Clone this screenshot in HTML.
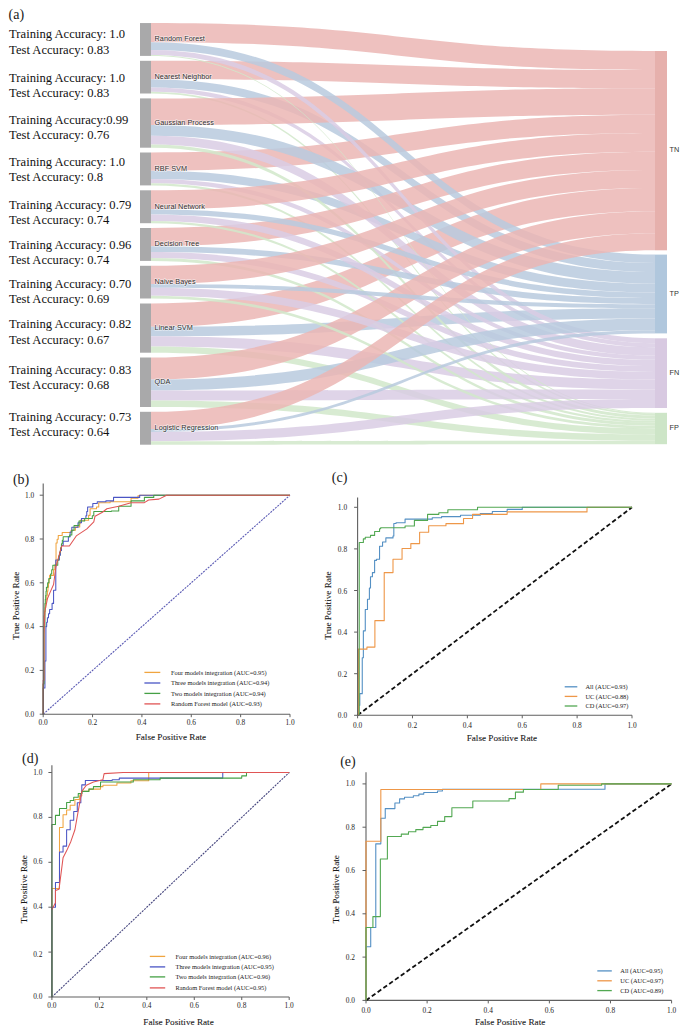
<!DOCTYPE html>
<html><head><meta charset="utf-8"><style>
html,body{margin:0;padding:0;background:#fff;width:685px;height:1032px;overflow:hidden}
svg{display:block}
.sl{font-family:"Liberation Sans",sans-serif;font-size:7.3px;fill:#333;paint-order:stroke;stroke:rgba(255,255,255,0.55);stroke-width:1.6px;stroke-linejoin:round}
.acc{font-family:"Liberation Serif",serif;font-size:12.6px;fill:#111}
.tk{font-family:"Liberation Serif",serif;font-size:7.4px;fill:#1e1e1e}
.pl{font-family:"Liberation Serif",serif;font-size:14px;fill:#1a1a1a}
.ax{font-family:"Liberation Serif",serif;font-size:9.2px;fill:#1a1a1a;stroke:#1a1a1a;stroke-width:0.1px}
.lg{font-family:"Liberation Serif",serif;font-size:6.4px;fill:#1a1a1a}
</style></head><body>
<svg width="685" height="1032" viewBox="0 0 685 1032">
<path d="M151.0,60.80C403.0,60.80 403.0,70.02 655.0,70.02L655.0,88.36C403.0,88.36 403.0,79.20 151.0,79.20Z" fill="rgba(235,182,180,0.85)"/>
<path d="M151.0,79.20C403.0,79.20 403.0,263.00 655.0,263.00L655.0,271.99C403.0,271.99 403.0,87.60 151.0,87.60Z" fill="rgba(184,202,222,0.85)"/>
<path d="M151.0,87.60C403.0,87.60 403.0,343.14 655.0,343.14L655.0,347.21C403.0,347.21 403.0,91.80 151.0,91.80Z" fill="rgba(217,204,228,0.85)"/>
<path d="M151.0,91.80C403.0,91.80 403.0,413.68 655.0,413.68L655.0,415.34C403.0,415.34 403.0,93.50 151.0,93.50Z" fill="rgba(209,231,202,0.85)"/>
<path d="M151.0,303.50C403.0,303.50 403.0,188.02 655.0,188.02L655.0,211.24C403.0,211.24 403.0,326.80 151.0,326.80Z" fill="rgba(235,182,180,0.85)"/>
<path d="M151.0,326.80C403.0,326.80 403.0,308.26 655.0,308.26L655.0,318.42C403.0,318.42 403.0,336.30 151.0,336.30Z" fill="rgba(184,202,222,0.85)"/>
<path d="M151.0,336.30C403.0,336.30 403.0,379.54 655.0,379.54L655.0,389.41C403.0,389.41 403.0,346.50 151.0,346.50Z" fill="rgba(217,204,228,0.85)"/>
<path d="M151.0,346.50C403.0,346.50 403.0,428.40 655.0,428.40L655.0,434.45C403.0,434.45 403.0,352.70 151.0,352.70Z" fill="rgba(209,231,202,0.85)"/>
<path d="M151.0,152.50C403.0,152.50 403.0,114.77 655.0,114.77L655.0,132.91C403.0,132.91 403.0,170.70 151.0,170.70Z" fill="rgba(235,182,180,0.85)"/>
<path d="M151.0,170.70C403.0,170.70 403.0,283.65 655.0,283.65L655.0,292.42C403.0,292.42 403.0,178.90 151.0,178.90Z" fill="rgba(184,202,222,0.85)"/>
<path d="M151.0,178.90C403.0,178.90 403.0,355.63 655.0,355.63L655.0,359.79C403.0,359.79 403.0,183.20 151.0,183.20Z" fill="rgba(217,204,228,0.85)"/>
<path d="M151.0,183.20C403.0,183.20 403.0,418.46 655.0,418.46L655.0,420.60C403.0,420.60 403.0,185.40 151.0,185.40Z" fill="rgba(209,231,202,0.85)"/>
<path d="M151.0,98.40C403.0,98.40 403.0,88.36 655.0,88.36L655.0,114.77C403.0,114.77 403.0,124.90 151.0,124.90Z" fill="rgba(235,182,180,0.85)"/>
<path d="M151.0,124.90C403.0,124.90 403.0,271.99 655.0,271.99L655.0,283.65C403.0,283.65 403.0,135.80 151.0,135.80Z" fill="rgba(184,202,222,0.85)"/>
<path d="M151.0,135.80C403.0,135.80 403.0,347.21 655.0,347.21L655.0,355.63C403.0,355.63 403.0,144.50 151.0,144.50Z" fill="rgba(217,204,228,0.85)"/>
<path d="M151.0,144.50C403.0,144.50 403.0,415.34 655.0,415.34L655.0,418.46C403.0,418.46 403.0,147.70 151.0,147.70Z" fill="rgba(209,231,202,0.85)"/>
<path d="M151.0,228.00C403.0,228.00 403.0,151.74 655.0,151.74L655.0,169.88C403.0,169.88 403.0,246.20 151.0,246.20Z" fill="rgba(235,182,180,0.85)"/>
<path d="M151.0,246.20C403.0,246.20 403.0,297.99 655.0,297.99L655.0,304.19C403.0,304.19 403.0,252.00 151.0,252.00Z" fill="rgba(184,202,222,0.85)"/>
<path d="M151.0,252.00C403.0,252.00 403.0,366.08 655.0,366.08L655.0,371.89C403.0,371.89 403.0,258.00 151.0,258.00Z" fill="rgba(217,204,228,0.85)"/>
<path d="M151.0,258.00C403.0,258.00 403.0,422.84 655.0,422.84L655.0,425.67C403.0,425.67 403.0,260.90 151.0,260.90Z" fill="rgba(209,231,202,0.85)"/>
<path d="M151.0,23.06C403.0,23.06 403.0,51.00 655.0,51.00L655.0,70.02C403.0,70.02 403.0,42.15 151.0,42.15Z" fill="rgba(235,182,180,0.85)"/>
<path d="M151.0,42.15C403.0,42.15 403.0,254.60 655.0,254.60L655.0,263.00C403.0,263.00 403.0,50.00 151.0,50.00Z" fill="rgba(184,202,222,0.85)"/>
<path d="M151.0,50.00C403.0,50.00 403.0,338.30 655.0,338.30L655.0,343.14C403.0,343.14 403.0,55.00 151.0,55.00Z" fill="rgba(217,204,228,0.85)"/>
<path d="M151.0,55.00C403.0,55.00 403.0,412.80 655.0,412.80L655.0,413.68C403.0,413.68 403.0,55.90 151.0,55.90Z" fill="rgba(209,231,202,0.85)"/>
<path d="M151.0,190.30C403.0,190.30 403.0,132.91 655.0,132.91L655.0,151.74C403.0,151.74 403.0,209.20 151.0,209.20Z" fill="rgba(235,182,180,0.85)"/>
<path d="M151.0,209.20C403.0,209.20 403.0,292.42 655.0,292.42L655.0,297.99C403.0,297.99 403.0,214.40 151.0,214.40Z" fill="rgba(184,202,222,0.85)"/>
<path d="M151.0,214.40C403.0,214.40 403.0,359.79 655.0,359.79L655.0,366.08C403.0,366.08 403.0,220.90 151.0,220.90Z" fill="rgba(217,204,228,0.85)"/>
<path d="M151.0,220.90C403.0,220.90 403.0,420.60 655.0,420.60L655.0,422.84C403.0,422.84 403.0,223.20 151.0,223.20Z" fill="rgba(209,231,202,0.85)"/>
<path d="M151.0,357.50C403.0,357.50 403.0,211.24 655.0,211.24L655.0,233.16C403.0,233.16 403.0,379.50 151.0,379.50Z" fill="rgba(235,182,180,0.85)"/>
<path d="M151.0,379.50C403.0,379.50 403.0,318.42 655.0,318.42L655.0,330.30C403.0,330.30 403.0,390.60 151.0,390.60Z" fill="rgba(184,202,222,0.85)"/>
<path d="M151.0,390.60C403.0,390.60 403.0,389.41 655.0,389.41L655.0,399.00C403.0,399.00 403.0,400.50 151.0,400.50Z" fill="rgba(217,204,228,0.85)"/>
<path d="M151.0,400.50C403.0,400.50 403.0,434.45 655.0,434.45L655.0,440.79C403.0,440.79 403.0,407.00 151.0,407.00Z" fill="rgba(209,231,202,0.85)"/>
<path d="M151.0,265.80C403.0,265.80 403.0,169.88 655.0,169.88L655.0,188.02C403.0,188.02 403.0,284.00 151.0,284.00Z" fill="rgba(235,182,180,0.85)"/>
<path d="M151.0,284.00C403.0,284.00 403.0,304.19 655.0,304.19L655.0,308.26C403.0,308.26 403.0,287.80 151.0,287.80Z" fill="rgba(184,202,222,0.85)"/>
<path d="M151.0,287.80C403.0,287.80 403.0,371.89 655.0,371.89L655.0,379.54C403.0,379.54 403.0,295.70 151.0,295.70Z" fill="rgba(217,204,228,0.85)"/>
<path d="M151.0,295.70C403.0,295.70 403.0,425.67 655.0,425.67L655.0,428.40C403.0,428.40 403.0,298.50 151.0,298.50Z" fill="rgba(209,231,202,0.85)"/>
<path d="M151.0,411.80C403.0,411.80 403.0,233.16 655.0,233.16L655.0,250.30C403.0,250.30 403.0,429.00 151.0,429.00Z" fill="rgba(235,182,180,0.85)"/>
<path d="M151.0,429.00C403.0,429.00 403.0,330.30 655.0,330.30L655.0,333.40C403.0,333.40 403.0,431.90 151.0,431.90Z" fill="rgba(184,202,222,0.85)"/>
<path d="M151.0,431.90C403.0,431.90 403.0,399.00 655.0,399.00L655.0,408.00C403.0,408.00 403.0,441.20 151.0,441.20Z" fill="rgba(217,204,228,0.85)"/>
<path d="M151.0,441.20C403.0,441.20 403.0,440.79 655.0,440.79L655.0,444.20C403.0,444.20 403.0,444.70 151.0,444.70Z" fill="rgba(209,231,202,0.85)"/>
<rect x="140" y="23.06" width="11" height="32.84" fill="#a9a9aa"/>
<rect x="140" y="60.80" width="11" height="32.70" fill="#a9a9aa"/>
<rect x="140" y="98.40" width="11" height="49.30" fill="#a9a9aa"/>
<rect x="140" y="152.50" width="11" height="32.90" fill="#a9a9aa"/>
<rect x="140" y="190.30" width="11" height="32.90" fill="#a9a9aa"/>
<rect x="140" y="228.00" width="11" height="32.90" fill="#a9a9aa"/>
<rect x="140" y="265.80" width="11" height="32.70" fill="#a9a9aa"/>
<rect x="140" y="303.50" width="11" height="49.20" fill="#a9a9aa"/>
<rect x="140" y="357.50" width="11" height="49.50" fill="#a9a9aa"/>
<rect x="140" y="411.80" width="11" height="32.90" fill="#a9a9aa"/>
<rect x="655" y="51.0" width="12" height="199.30" fill="#e6b0ac"/>
<rect x="655" y="254.6" width="12" height="78.80" fill="#b0c7dd"/>
<rect x="655" y="338.3" width="12" height="69.70" fill="#d8c9e1"/>
<rect x="655" y="412.8" width="12" height="31.40" fill="#cde5c7"/>
<text x="154.6" y="41.28" class="sl">Random Forest</text>
<text x="154.6" y="78.95" class="sl">Nearest Neighbor</text>
<text x="154.6" y="124.85" class="sl">Gaussian Process</text>
<text x="154.6" y="170.75" class="sl">RBF SVM</text>
<text x="154.6" y="208.55" class="sl">Neural Network</text>
<text x="154.6" y="246.25" class="sl">Decision Tree</text>
<text x="154.6" y="283.95" class="sl">Naive Bayes</text>
<text x="154.6" y="329.90" class="sl">Linear SVM</text>
<text x="154.6" y="384.05" class="sl">QDA</text>
<text x="154.6" y="430.05" class="sl">Logistic Regression</text>
<text x="669.6" y="152.25" class="sl">TN</text>
<text x="669.6" y="295.60" class="sl">TP</text>
<text x="669.6" y="374.75" class="sl">FN</text>
<text x="669.6" y="430.10" class="sl">FP</text>
<text x="9.1" y="38.40" class="acc">Training Accuracy: 1.0</text>
<text x="9.1" y="53.50" class="acc">Test Accuracy: 0.83</text>
<text x="9.1" y="81.70" class="acc">Training Accuracy: 1.0</text>
<text x="9.1" y="96.80" class="acc">Test Accuracy: 0.83</text>
<text x="9.1" y="123.70" class="acc">Training Accuracy:0.99</text>
<text x="9.1" y="138.80" class="acc">Test Accuracy: 0.76</text>
<text x="9.1" y="166.00" class="acc">Training Accuracy: 1.0</text>
<text x="9.1" y="181.10" class="acc">Test Accuracy: 0.8</text>
<text x="9.1" y="209.10" class="acc">Training Accuracy: 0.79</text>
<text x="9.1" y="224.20" class="acc">Test Accuracy: 0.74</text>
<text x="9.1" y="248.70" class="acc">Training Accuracy: 0.96</text>
<text x="9.1" y="263.80" class="acc">Test Accuracy: 0.74</text>
<text x="9.1" y="287.60" class="acc">Training Accuracy: 0.70</text>
<text x="9.1" y="302.70" class="acc">Test Accuracy: 0.69</text>
<text x="9.1" y="328.40" class="acc">Training Accuracy: 0.82</text>
<text x="9.1" y="343.50" class="acc">Test Accuracy: 0.67</text>
<text x="9.1" y="373.50" class="acc">Training Accuracy: 0.83</text>
<text x="9.1" y="388.60" class="acc">Test Accuracy: 0.68</text>
<text x="9.1" y="420.90" class="acc">Training Accuracy: 0.73</text>
<text x="9.1" y="436.00" class="acc">Test Accuracy: 0.64</text>
<text x="8.6" y="19" class="pl">(a)</text>
<path d="M43.2,714.2 L290,495.2" stroke="#5a5ab4" stroke-width="1.1" stroke-dasharray="2,1.1"/>
<polyline points="43.20,714.20 43.20,714.20 43.20,683.54 43.94,683.54 43.94,683.54 43.94,683.54 43.94,615.65 44.52,615.65 44.52,611.56 45.09,611.56 45.09,607.47 45.67,607.47 45.67,603.39 46.24,603.39 46.24,599.30 46.82,599.30 46.82,595.21 47.40,595.21 47.40,591.12 47.95,591.12 47.95,587.18 48.51,587.18 48.51,583.24 49.06,583.24 49.06,579.30 49.62,579.30 49.62,575.35 53.57,575.35 53.57,569.66 54.80,569.66 54.80,564.84 56.03,564.84 56.03,560.02 56.03,560.02 56.03,542.94 57.14,542.94 57.14,539.22 58.25,539.22 58.25,535.50 62.20,535.50 62.20,532.43 71.09,532.43 71.09,530.24 75.41,530.24 75.41,526.96 79.73,526.96 79.73,523.67 80.22,523.67 80.22,520.17 88.61,520.17 88.61,515.35 90.09,515.35 90.09,508.78 96.51,508.78 96.51,507.03 98.73,507.03 98.73,502.65 110.08,502.65 110.08,501.77 131.06,501.77 131.06,498.27 137.97,498.27 137.97,495.86 139.45,495.86 139.45,495.20 290.00,495.20 290.00,495.20" fill="none" stroke="#f0a540" stroke-width="1.05" stroke-linejoin="round"/>
<polyline points="43.20,714.20 43.20,714.20 43.20,687.92 43.94,687.92 43.94,687.92 44.93,687.92 44.93,676.31 44.93,676.31 44.93,660.98 45.91,660.98 45.91,626.60 46.66,626.60 46.66,622.22 47.40,622.22 47.40,617.84 48.51,617.84 48.51,613.68 49.62,613.68 49.62,609.52 52.08,609.52 52.08,603.39 53.57,603.39 53.57,598.79 53.57,598.79 53.57,590.25 55.79,590.25 55.79,587.84 55.79,587.84 55.79,560.02 58.25,560.02 58.25,560.02 59.32,560.02 59.32,555.21 60.39,555.21 60.39,550.39 61.46,550.39 61.46,545.57 63.19,545.57 63.19,541.19 68.37,541.19 68.37,536.81 70.10,536.81 70.10,531.99 71.83,531.99 71.83,527.17 78.00,527.17 78.00,522.79 81.45,522.79 81.45,518.41 85.90,518.41 85.90,515.79 86.76,515.79 86.76,511.41 87.62,511.41 87.62,507.03 92.81,507.03 92.81,503.52 97.25,503.52 97.25,501.77 105.89,501.77 105.89,500.89 113.54,500.89 113.54,497.39 139.70,497.39 139.70,495.20 290.00,495.20 290.00,495.20" fill="none" stroke="#4a55c4" stroke-width="1.05" stroke-linejoin="round"/>
<polyline points="43.20,714.20 43.20,714.20 43.20,683.98 43.94,683.98 43.94,683.98 43.94,683.98 43.94,626.60 44.93,626.60 44.93,603.39 45.30,603.39 45.30,599.33 45.67,599.33 45.67,595.28 46.04,595.28 46.04,591.23 46.41,591.23 46.41,587.18 47.64,587.18 47.64,582.80 48.88,582.80 48.88,578.42 50.60,578.42 50.60,574.04 51.71,574.04 51.71,569.66 52.83,569.66 52.83,565.28 57.76,565.28 57.76,560.02 58.69,560.02 58.69,555.97 59.61,555.97 59.61,551.92 60.54,551.92 60.54,547.87 61.46,547.87 61.46,543.82 62.33,543.82 62.33,540.31 63.19,540.31 63.19,536.81 69.61,536.81 69.61,535.06 71.83,535.06 71.83,530.24 74.05,530.24 74.05,525.42 78.99,525.42 78.99,521.04 84.66,521.04 84.66,518.41 92.31,518.41 92.31,515.79 93.79,515.79 93.79,511.41 111.32,511.41 111.32,510.97 118.72,510.97 118.72,506.15 131.06,506.15 131.06,500.89 144.39,500.89 144.39,497.39 153.77,497.39 153.77,495.20 290.00,495.20 290.00,495.20" fill="none" stroke="#45a045" stroke-width="1.05" stroke-linejoin="round"/>
<polyline points="43.20,714.20 43.20,680.25 43.94,680.25 43.94,634.48 44.93,611.27 47.40,598.79 50.60,591.12 53.57,584.55 55.79,567.47 57.76,560.02 61.71,546.01 69.36,546.01 76.27,535.93 86.88,528.93 93.79,521.92 95.03,516.22 102.43,512.28 106.87,508.78 118.72,506.15 131.06,502.65 144.39,502.65 148.58,500.02 158.95,499.14 166.60,495.20 290.00,495.20" fill="none" stroke="#e05555" stroke-width="1.05" stroke-linejoin="round"/>
<path d="M43.2,483.6 L43.2,714.2 L290.00,714.2" fill="none" stroke="#606060" stroke-width="1.1"/>
<path d="M43.20,714.2 L43.20,717.2" stroke="#606060" stroke-width="1"/>
<path d="M43.2,714.20 L39.7,714.20" stroke="#606060" stroke-width="1"/>
<text x="43.20" y="724.80" class="tk" text-anchor="middle">0.0</text>
<text x="34.20" y="717.00" class="tk" text-anchor="end">0.0</text>
<path d="M92.56,714.2 L92.56,717.2" stroke="#606060" stroke-width="1"/>
<path d="M43.2,670.40 L39.7,670.40" stroke="#606060" stroke-width="1"/>
<text x="92.56" y="724.80" class="tk" text-anchor="middle">0.2</text>
<text x="34.20" y="673.20" class="tk" text-anchor="end">0.2</text>
<path d="M141.92,714.2 L141.92,717.2" stroke="#606060" stroke-width="1"/>
<path d="M43.2,626.60 L39.7,626.60" stroke="#606060" stroke-width="1"/>
<text x="141.92" y="724.80" class="tk" text-anchor="middle">0.4</text>
<text x="34.20" y="629.40" class="tk" text-anchor="end">0.4</text>
<path d="M191.28,714.2 L191.28,717.2" stroke="#606060" stroke-width="1"/>
<path d="M43.2,582.80 L39.7,582.80" stroke="#606060" stroke-width="1"/>
<text x="191.28" y="724.80" class="tk" text-anchor="middle">0.6</text>
<text x="34.20" y="585.60" class="tk" text-anchor="end">0.6</text>
<path d="M240.64,714.2 L240.64,717.2" stroke="#606060" stroke-width="1"/>
<path d="M43.2,539.00 L39.7,539.00" stroke="#606060" stroke-width="1"/>
<text x="240.64" y="724.80" class="tk" text-anchor="middle">0.8</text>
<text x="34.20" y="541.80" class="tk" text-anchor="end">0.8</text>
<path d="M290.00,714.2 L290.00,717.2" stroke="#606060" stroke-width="1"/>
<path d="M43.2,495.20 L39.7,495.20" stroke="#606060" stroke-width="1"/>
<text x="290.00" y="724.80" class="tk" text-anchor="middle">1.0</text>
<text x="34.20" y="498.00" class="tk" text-anchor="end">1.0</text>
<text x="12.9" y="484.4" class="pl">(b)</text>
<text x="170.9" y="740.3" class="ax" text-anchor="middle">False Positive Rate</text>
<text x="0" y="0" class="ax" text-anchor="middle" transform="translate(18.9,605.6) rotate(-90)">True Positive Rate</text>
<path d="M144.4,672.4 L160.3,672.4" stroke="#f0a540" stroke-width="1.3"/>
<text x="171" y="674.6999999999999" class="lg">Four models integration (AUC=0.95)</text>
<path d="M144.4,683.0 L160.3,683.0" stroke="#4a55c4" stroke-width="1.3"/>
<text x="171" y="685.3" class="lg">Three models integration (AUC=0.94)</text>
<path d="M144.4,693.4 L160.3,693.4" stroke="#45a045" stroke-width="1.3"/>
<text x="171" y="695.6999999999999" class="lg">Two models integration (AUC=0.94)</text>
<path d="M144.4,703.9 L160.3,703.9" stroke="#e05555" stroke-width="1.3"/>
<text x="171" y="706.1999999999999" class="lg">Random Forest model (AUC=0.93)</text>
<path d="M357.6,715.3 L632,507.3" stroke="#111" stroke-width="1.8" stroke-dasharray="4.5,2.6"/>
<polyline points="358.70,715.30 358.70,715.30 358.70,705.32 359.80,705.32 359.80,693.67 362.26,693.67 362.26,690.34 362.26,690.34 362.26,657.68 363.36,657.68 363.36,654.98 363.36,654.98 363.36,630.85 365.28,630.85 365.28,609.43 367.48,609.43 367.48,599.24 369.40,599.24 369.40,588.00 370.50,588.00 370.50,576.77 372.42,576.77 372.42,572.61 374.61,572.61 374.61,560.34 376.53,560.34 376.53,559.30 379.55,559.30 379.55,546.20 382.57,546.20 382.57,542.04 385.86,542.04 385.86,537.88 393.00,537.88 393.00,536.00 393.82,536.00 393.82,523.52 396.02,523.52 396.02,522.69 405.07,522.69 405.07,519.16 425.10,519.16 425.10,519.16 432.24,519.16 432.24,517.70 441.57,517.70 441.57,516.66 460.50,516.66 460.50,515.20 480.26,515.20 480.26,513.54 492.33,513.54 492.33,511.46 507.15,511.46 507.15,509.38 522.24,509.38 522.24,507.30 632.00,507.30 632.00,507.30" fill="none" stroke="#5490c4" stroke-width="1.1" stroke-linejoin="round"/>
<polyline points="358.42,715.30 358.42,715.30 358.42,649.16 366.93,649.16 366.93,647.08 374.89,647.08 374.89,620.66 384.22,620.66 384.22,572.61 393.00,572.61 393.00,559.30 402.05,559.30 402.05,548.48 410.83,548.48 410.83,543.60 419.61,543.60 419.61,532.26 428.67,532.26 428.67,525.71 445.96,525.71 445.96,523.63 463.52,523.63 463.52,518.53 472.57,518.53 472.57,514.37 507.15,514.37 507.15,511.88 587.00,511.88 587.00,507.30 632.00,507.30 632.00,507.30" fill="none" stroke="#ee9748" stroke-width="1.1" stroke-linejoin="round"/>
<polyline points="359.25,715.30 359.25,715.30 359.25,542.45 363.36,542.45 363.36,538.92 365.28,538.92 365.28,537.25 370.50,537.25 370.50,535.38 374.61,535.38 374.61,531.43 379.55,531.43 379.55,528.72 380.65,528.72 380.65,527.68 405.07,527.68 405.07,526.02 414.40,526.02 414.40,520.40 427.57,520.40 427.57,514.37 438.82,514.37 438.82,512.81 447.88,512.81 447.88,509.69 477.51,509.69 477.51,507.72 477.51,507.72 477.51,507.30 632.00,507.30 632.00,507.30" fill="none" stroke="#52a852" stroke-width="1.1" stroke-linejoin="round"/>
<path d="M357.6,497.4 L357.6,715.3 L632.00,715.3" fill="none" stroke="#606060" stroke-width="1.1"/>
<path d="M357.60,715.3 L357.60,718.3" stroke="#606060" stroke-width="1"/>
<path d="M357.6,715.30 L354.1,715.30" stroke="#606060" stroke-width="1"/>
<text x="357.60" y="727.90" class="tk" text-anchor="middle">0.0</text>
<text x="347.10" y="718.30" class="tk" text-anchor="end">0.0</text>
<path d="M412.48,715.3 L412.48,718.3" stroke="#606060" stroke-width="1"/>
<path d="M357.6,673.70 L354.1,673.70" stroke="#606060" stroke-width="1"/>
<text x="412.48" y="727.90" class="tk" text-anchor="middle">0.2</text>
<text x="347.10" y="676.70" class="tk" text-anchor="end">0.2</text>
<path d="M467.36,715.3 L467.36,718.3" stroke="#606060" stroke-width="1"/>
<path d="M357.6,632.10 L354.1,632.10" stroke="#606060" stroke-width="1"/>
<text x="467.36" y="727.90" class="tk" text-anchor="middle">0.4</text>
<text x="347.10" y="635.10" class="tk" text-anchor="end">0.4</text>
<path d="M522.24,715.3 L522.24,718.3" stroke="#606060" stroke-width="1"/>
<path d="M357.6,590.50 L354.1,590.50" stroke="#606060" stroke-width="1"/>
<text x="522.24" y="727.90" class="tk" text-anchor="middle">0.6</text>
<text x="347.10" y="593.50" class="tk" text-anchor="end">0.6</text>
<path d="M577.12,715.3 L577.12,718.3" stroke="#606060" stroke-width="1"/>
<path d="M357.6,548.90 L354.1,548.90" stroke="#606060" stroke-width="1"/>
<text x="577.12" y="727.90" class="tk" text-anchor="middle">0.8</text>
<text x="347.10" y="551.90" class="tk" text-anchor="end">0.8</text>
<path d="M632.00,715.3 L632.00,718.3" stroke="#606060" stroke-width="1"/>
<path d="M357.6,507.30 L354.1,507.30" stroke="#606060" stroke-width="1"/>
<text x="632.00" y="727.90" class="tk" text-anchor="middle">1.0</text>
<text x="347.10" y="510.30" class="tk" text-anchor="end">1.0</text>
<text x="331.8" y="482.0" class="pl">(c)</text>
<text x="501.9" y="740.6" class="ax" text-anchor="middle">False Positive Rate</text>
<text x="0" y="0" class="ax" text-anchor="middle" transform="translate(331.1,605.5) rotate(-90)">True Positive Rate</text>
<path d="M564.7,686.8 L577.3,686.8" stroke="#5490c4" stroke-width="1.3"/>
<text x="585.4" y="689.0999999999999" class="lg">All (AUC=0.93)</text>
<path d="M564.7,696.4 L577.3,696.4" stroke="#ee9748" stroke-width="1.3"/>
<text x="585.4" y="698.6999999999999" class="lg">UC (AUC=0.88)</text>
<path d="M564.7,706.0 L577.3,706.0" stroke="#52a852" stroke-width="1.3"/>
<text x="585.4" y="708.3" class="lg">CD (AUC=0.97)</text>
<path d="M51.9,997 L289.2,772.5" stroke="#45457e" stroke-width="1.1" stroke-dasharray="2,1.1"/>
<polyline points="51.90,997.00 51.90,997.00 51.90,888.57 59.49,888.57 59.49,887.89 59.49,887.89 59.49,827.50 63.05,827.50 63.05,814.71 66.61,814.71 66.61,809.99 70.17,809.99 70.17,805.28 74.92,805.28 74.92,799.44 79.43,799.44 79.43,795.85 81.80,795.85 81.80,791.36 88.92,791.36 88.92,789.11 100.55,789.11 100.55,786.64 102.92,786.64 102.92,785.30 116.92,785.30 116.92,783.05 130.92,783.05 130.92,780.81 148.72,780.81 148.72,778.11 148.72,778.11 148.72,772.50 289.20,772.50 289.20,772.50" fill="none" stroke="#f0a540" stroke-width="1.05" stroke-linejoin="round"/>
<polyline points="51.90,997.00 51.90,997.00 51.90,907.20 55.46,907.20 55.46,882.50 59.49,882.50 59.49,851.97 63.05,851.97 63.05,846.14 66.61,846.14 66.61,829.75 70.17,829.75 70.17,820.32 73.73,820.32 73.73,811.56 77.29,811.56 77.29,802.81 80.85,802.81 80.85,793.60 81.80,793.60 81.80,784.85 85.36,784.85 85.36,780.58 100.55,780.58 100.55,780.58 112.17,780.58 112.17,779.68 119.29,779.68 119.29,778.11 222.76,778.11 222.76,776.99 222.76,776.99 222.76,772.50 289.20,772.50 289.20,772.50" fill="none" stroke="#4a55c4" stroke-width="1.05" stroke-linejoin="round"/>
<polyline points="51.90,997.00 51.90,997.00 51.90,824.58 55.46,824.58 55.46,815.38 59.49,815.38 59.49,808.42 66.61,808.42 66.61,802.58 70.17,802.58 70.17,800.56 73.73,800.56 73.73,797.19 78.24,797.19 78.24,793.60 81.80,793.60 81.80,791.36 88.92,791.36 88.92,789.11 93.43,789.11 93.43,786.64 100.55,786.64 100.55,781.93 133.29,781.93 133.29,779.68 160.11,779.68 160.11,778.11 241.74,778.11 241.74,775.87 246.49,775.87 246.49,772.50 289.20,772.50 289.20,772.50" fill="none" stroke="#45a045" stroke-width="1.05" stroke-linejoin="round"/>
<polyline points="51.90,909.44 55.46,902.71 55.46,890.59 59.02,889.24 63.05,857.81 66.61,850.85 70.88,841.42 74.92,829.75 78.24,810.89 81.80,791.36 86.31,785.30 93.43,781.93 102.92,779.68 104.11,773.62 123.09,772.50 289.20,772.50" fill="none" stroke="#e05555" stroke-width="1.05" stroke-linejoin="round"/>
<path d="M51.9,765.2 L51.9,997.0 L289.20,997.0" fill="none" stroke="#606060" stroke-width="1.1"/>
<path d="M51.90,997.0 L51.90,1000.0" stroke="#606060" stroke-width="1"/>
<path d="M51.9,997.00 L48.4,997.00" stroke="#606060" stroke-width="1"/>
<text x="51.90" y="1008.00" class="tk" text-anchor="middle">0.0</text>
<text x="42.40" y="999.00" class="tk" text-anchor="end">0.0</text>
<path d="M99.36,997.0 L99.36,1000.0" stroke="#606060" stroke-width="1"/>
<path d="M51.9,952.10 L48.4,952.10" stroke="#606060" stroke-width="1"/>
<text x="99.36" y="1008.00" class="tk" text-anchor="middle">0.2</text>
<text x="42.40" y="957.30" class="tk" text-anchor="end">0.2</text>
<path d="M146.82,997.0 L146.82,1000.0" stroke="#606060" stroke-width="1"/>
<path d="M51.9,907.20 L48.4,907.20" stroke="#606060" stroke-width="1"/>
<text x="146.82" y="1008.00" class="tk" text-anchor="middle">0.4</text>
<text x="42.40" y="909.20" class="tk" text-anchor="end">0.4</text>
<path d="M194.28,997.0 L194.28,1000.0" stroke="#606060" stroke-width="1"/>
<path d="M51.9,862.30 L48.4,862.30" stroke="#606060" stroke-width="1"/>
<text x="194.28" y="1008.00" class="tk" text-anchor="middle">0.6</text>
<text x="42.40" y="864.30" class="tk" text-anchor="end">0.6</text>
<path d="M241.74,997.0 L241.74,1000.0" stroke="#606060" stroke-width="1"/>
<path d="M51.9,817.40 L48.4,817.40" stroke="#606060" stroke-width="1"/>
<text x="241.74" y="1008.00" class="tk" text-anchor="middle">0.8</text>
<text x="42.40" y="819.40" class="tk" text-anchor="end">0.8</text>
<path d="M289.20,997.0 L289.20,1000.0" stroke="#606060" stroke-width="1"/>
<path d="M51.9,772.50 L48.4,772.50" stroke="#606060" stroke-width="1"/>
<text x="289.20" y="1008.00" class="tk" text-anchor="middle">1.0</text>
<text x="42.40" y="774.50" class="tk" text-anchor="end">1.0</text>
<text x="22.0" y="762.8" class="pl">(d)</text>
<text x="178.5" y="1024.8" class="ax" text-anchor="middle">False Positive Rate</text>
<text x="0" y="0" class="ax" text-anchor="middle" transform="translate(26.5,889.3) rotate(-90)">True Positive Rate</text>
<path d="M149.8,956.4 L165.2,956.4" stroke="#f0a540" stroke-width="1.3"/>
<text x="175.5" y="958.6999999999999" class="lg">Four models integration (AUC=0.96)</text>
<path d="M149.8,966.9 L165.2,966.9" stroke="#4a55c4" stroke-width="1.3"/>
<text x="175.5" y="969.1999999999999" class="lg">Three models integration (AUC=0.95)</text>
<path d="M149.8,976.9 L165.2,976.9" stroke="#45a045" stroke-width="1.3"/>
<text x="175.5" y="979.1999999999999" class="lg">Two models integration (AUC=0.96)</text>
<path d="M149.8,987.9 L165.2,987.9" stroke="#e05555" stroke-width="1.3"/>
<text x="175.5" y="990.1999999999999" class="lg">Random Forest model (AUC=0.95)</text>
<path d="M366.0,772.2 L366.0,1000.4 L671.60,1000.4" fill="none" stroke="#606060" stroke-width="1.1"/>
<path d="M366,1000.4 L671.6,783.9" stroke="#111" stroke-width="1.8" stroke-dasharray="4.5,2.6"/>
<polyline points="366.00,1000.40 366.00,1000.40 366.00,946.82 370.71,946.82 370.71,927.44 375.78,927.44 375.78,843.87 380.82,843.87 380.82,818.32 385.25,818.32 385.25,808.58 394.91,808.58 394.91,802.95 399.62,802.95 399.62,798.84 404.51,798.84 404.51,797.32 413.37,797.32 413.37,795.70 418.87,795.70 418.87,794.08 423.76,794.08 423.76,792.56 437.51,792.56 437.51,790.94 442.40,790.94 442.40,789.31 604.98,789.31 604.98,783.90 671.60,783.90 671.60,783.90" fill="none" stroke="#5490c4" stroke-width="1.1" stroke-linejoin="round"/>
<polyline points="366.00,1000.40 366.00,1000.40 366.00,841.27 380.82,841.27 380.82,789.53 540.80,789.53 540.80,783.90 671.60,783.90 671.60,783.90" fill="none" stroke="#ee9748" stroke-width="1.1" stroke-linejoin="round"/>
<polyline points="366.00,1000.40 366.00,1000.40 366.00,927.44 372.91,927.44 372.91,916.61 380.36,916.61 380.36,859.03 387.39,859.03 387.39,836.51 401.30,836.51 401.30,834.13 408.48,834.13 408.48,831.75 415.81,831.75 415.81,829.58 423.02,829.58 423.02,827.42 430.79,827.42 430.79,825.47 437.51,825.47 437.51,821.35 444.69,821.35 444.69,816.59 451.87,816.59 451.87,807.71 472.81,807.71 472.81,801.00 509.02,801.00 509.02,798.62 515.44,798.62 515.44,792.13 523.38,792.13 523.38,789.53 558.22,789.53 558.22,785.20 601.62,785.20 601.62,783.90 671.60,783.90 671.60,783.90" fill="none" stroke="#52a852" stroke-width="1.1" stroke-linejoin="round"/>
<path d="M366.00,1000.4 L366.00,1003.4" stroke="#606060" stroke-width="1"/>
<path d="M366.0,1000.40 L362.5,1000.40" stroke="#606060" stroke-width="1"/>
<text x="366.00" y="1013.30" class="tk" text-anchor="middle">0.0</text>
<text x="355.00" y="1002.80" class="tk" text-anchor="end">0.0</text>
<path d="M427.12,1000.4 L427.12,1003.4" stroke="#606060" stroke-width="1"/>
<path d="M366.0,957.10 L362.5,957.10" stroke="#606060" stroke-width="1"/>
<text x="427.12" y="1013.30" class="tk" text-anchor="middle">0.2</text>
<text x="355.00" y="959.50" class="tk" text-anchor="end">0.2</text>
<path d="M488.24,1000.4 L488.24,1003.4" stroke="#606060" stroke-width="1"/>
<path d="M366.0,913.80 L362.5,913.80" stroke="#606060" stroke-width="1"/>
<text x="488.24" y="1013.30" class="tk" text-anchor="middle">0.4</text>
<text x="355.00" y="916.20" class="tk" text-anchor="end">0.4</text>
<path d="M549.36,1000.4 L549.36,1003.4" stroke="#606060" stroke-width="1"/>
<path d="M366.0,870.50 L362.5,870.50" stroke="#606060" stroke-width="1"/>
<text x="549.36" y="1013.30" class="tk" text-anchor="middle">0.6</text>
<text x="355.00" y="872.90" class="tk" text-anchor="end">0.6</text>
<path d="M610.48,1000.4 L610.48,1003.4" stroke="#606060" stroke-width="1"/>
<path d="M366.0,827.20 L362.5,827.20" stroke="#606060" stroke-width="1"/>
<text x="610.48" y="1013.30" class="tk" text-anchor="middle">0.8</text>
<text x="355.00" y="829.60" class="tk" text-anchor="end">0.8</text>
<path d="M671.60,1000.4 L671.60,1003.4" stroke="#606060" stroke-width="1"/>
<path d="M366.0,783.90 L362.5,783.90" stroke="#606060" stroke-width="1"/>
<text x="671.60" y="1013.30" class="tk" text-anchor="middle">1.0</text>
<text x="355.00" y="786.30" class="tk" text-anchor="end">1.0</text>
<text x="340.2" y="765.6" class="pl">(e)</text>
<text x="510.1" y="1024.8" class="ax" text-anchor="middle">False Positive Rate</text>
<text x="0" y="0" class="ax" text-anchor="middle" transform="translate(338.6,889.1) rotate(-90)">True Positive Rate</text>
<path d="M597.3,970.9 L611.8,970.9" stroke="#5490c4" stroke-width="1.3"/>
<text x="620.3" y="973.1999999999999" class="lg">All (AUC=0.95)</text>
<path d="M597.3,980.8 L611.8,980.8" stroke="#ee9748" stroke-width="1.3"/>
<text x="620.3" y="983.0999999999999" class="lg">UC (AUC=0.97)</text>
<path d="M597.3,990.6 L611.8,990.6" stroke="#52a852" stroke-width="1.3"/>
<text x="620.3" y="992.9" class="lg">CD (AUC=0.89)</text>
</svg>
</body></html>
